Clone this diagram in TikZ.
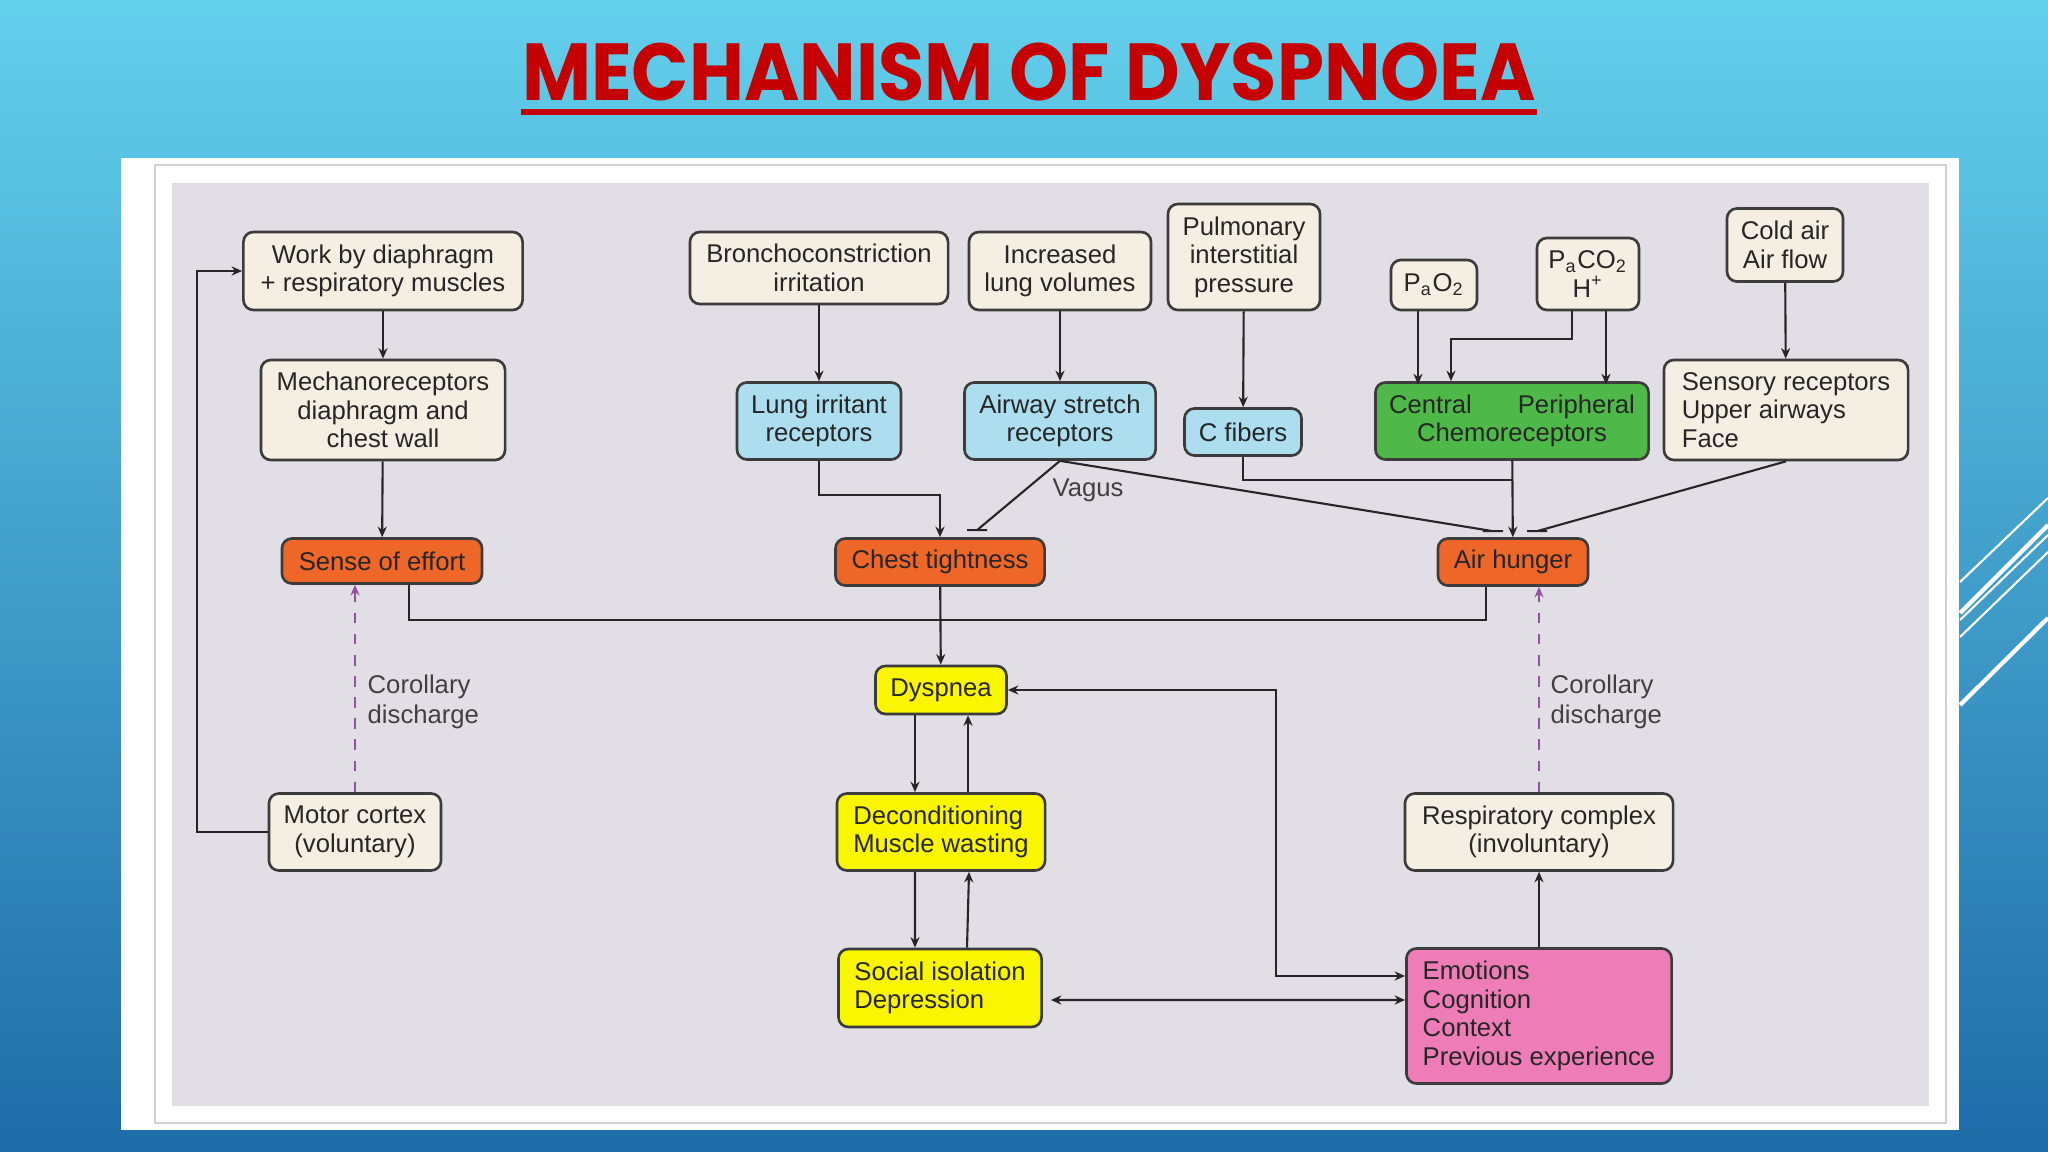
\documentclass[tikz,border=0pt]{standalone}
\usepackage{fontspec}
\setmainfont{Liberation Sans}
\newfontfamily\titlefont{Poppins}
\usetikzlibrary{arrows.meta}
\definecolor{bgtop}{RGB}{99,208,236}
\definecolor{bgbot}{RGB}{30,108,168}
\definecolor{panelgrey}{RGB}{226,222,229}
\definecolor{cream}{RGB}{245,238,226}
\definecolor{orangebox}{RGB}{238,102,40}
\definecolor{bluebox}{RGB}{172,222,240}
\definecolor{greenbox}{RGB}{78,184,72}
\definecolor{yellowbox}{RGB}{250,245,0}
\definecolor{pinkbox}{RGB}{238,124,182}
\definecolor{titlered}{RGB}{196,0,0}
\definecolor{corcol}{RGB}{150,80,160}
\definecolor{edgecol}{RGB}{60,60,60}
\begin{document}
\begin{tikzpicture}[x=0.01cm,y=-0.01cm,>={Stealth[length=3pt,width=2.6pt]},
  bx/.style={draw=edgecol,line width=0.75pt,rounded corners=0.1cm,align=center,inner sep=0pt,
    text=black!85,font=\fontsize{7.3}{8.1}\selectfont},
  link/.style={line width=0.6pt,black!85},
  corollary/.style={line width=0.6pt,corcol,dashed},
  lbl/.style={text=black!75,align=left,inner sep=0pt,font=\fontsize{7.3}{8.6}\selectfont}]
  \useasboundingbox (0,0) rectangle (2048,1152);
  \shade[top color=bgtop,bottom color=bgbot] (0,0) rectangle (2048,1152);
  \draw[white,line width=0.6pt] (1960,582) -- (2048,498);
  \draw[white,line width=1.2pt] (1960,613) -- (2048,525);
  \draw[white,line width=0.6pt] (1960,620) -- (2048,535);
  \draw[white,line width=0.6pt] (1960,637) -- (2048,552);
  \draw[white,line width=1.2pt] (1960,705) -- (2048,618);
  \fill[white] (121,158) rectangle (1959,1130);
  \draw[black!18,line width=0.5pt] (155,165) rectangle (1946,1123);
  \fill[panelgrey] (172,183) rectangle (1929,1106);

  \node[inner sep=0pt,text=titlered,font=\titlefont\bfseries\fontsize{23}{23}\selectfont] (title) at (1029,72)
    {\scalebox{0.93}[1]{MECHANISM OF DYSPNOEA}};
  \draw[titlered,line width=0.06cm] ([yshift=-0.11cm]title.base west) -- ([yshift=-0.11cm]title.base east);

  \node[bx,fill=cream,minimum width=2.79cm,minimum height=0.78cm] (work) at (383,271) {Work by diaphragm\\+ respiratory muscles};
  \node[bx,fill=cream,minimum width=2.44cm,minimum height=1.00cm] (mech) at (383,410) {Mechanoreceptors\\diaphragm and\\chest wall};
  \node[bx,fill=orangebox,minimum width=2.00cm,minimum height=0.45cm] (effort) at (382,561) {Sense of effort};
  \node[bx,fill=cream,minimum width=1.72cm,minimum height=0.77cm] (motor) at (355,832) {Motor cortex\\(voluntary)};
  \node[bx,fill=cream,minimum width=2.58cm,minimum height=0.72cm] (broncho) at (819,268) {Bronchoconstriction\\irritation};
  \node[bx,fill=bluebox,minimum width=1.64cm,minimum height=0.77cm] (irrit) at (819,421) {Lung irritant\\receptors};
  \node[bx,fill=cream,minimum width=1.82cm,minimum height=0.78cm] (incr) at (1060,271) {Increased\\lung volumes};
  \node[bx,fill=bluebox,minimum width=1.91cm,minimum height=0.77cm] (stretch) at (1060,421) {Airway stretch\\receptors};
  \node[bx,fill=cream,minimum width=1.52cm,minimum height=1.06cm] (pulm) at (1244,257) {Pulmonary\\interstitial\\pressure};
  \node[bx,fill=bluebox,minimum width=1.17cm,minimum height=0.47cm] (cfib) at (1243,432) {C fibers};
  \node[bx,fill=cream,minimum width=0.86cm,minimum height=0.50cm] (pao) at (1434,285) {P\textsubscript{a}O\textsubscript{2}};
  \node[bx,fill=cream,minimum width=1.02cm,minimum height=0.72cm] (paco) at (1588,274) {P\textsubscript{a}CO\textsubscript{2}\\H\textsuperscript{+}};
  \node[bx,fill=cream,minimum width=1.16cm,minimum height=0.73cm] (cold) at (1785,245) {Cold air\\Air flow};
  \node[bx,fill=greenbox,minimum width=2.73cm,minimum height=0.77cm] (chemo) at (1512,421) {Central\hspace{0.46cm}Peripheral\\Chemoreceptors};
  \node[bx,fill=cream,align=left,minimum width=2.44cm,minimum height=1.00cm] (sensory) at (1786,410) {Sensory receptors\\Upper airways\\Face};
  \node[bx,fill=orangebox,minimum width=2.09cm,minimum height=0.47cm] (chest) at (940,562) {Chest tightness};
  \node[bx,fill=orangebox,minimum width=1.50cm,minimum height=0.47cm] (hunger) at (1513,562) {Air hunger};
  \node[bx,fill=yellowbox,minimum width=1.31cm,minimum height=0.48cm] (dysp) at (941,690) {Dyspnea};
  \node[bx,fill=yellowbox,align=left,minimum width=2.08cm,minimum height=0.77cm] (decond) at (941,832) {Deconditioning\\Muscle wasting};
  \node[bx,fill=yellowbox,align=left,minimum width=2.03cm,minimum height=0.78cm] (social) at (940,988) {Social isolation\\Depression};
  \node[bx,fill=cream,minimum width=2.68cm,minimum height=0.77cm] (resp) at (1539,832) {Respiratory complex\\(involuntary)};
  \node[bx,fill=pinkbox,align=left,minimum width=2.65cm,minimum height=1.35cm] (emot) at (1539,1016) {Emotions\\Cognition\\Context\\Previous experience};

  \node[lbl,anchor=west] (corl) at (367,702) {Corollary\\discharge};
  \node[lbl,anchor=west] (corr) at (1550,702) {Corollary\\discharge};
  \node[lbl] (vagus) at (1088,490) {Vagus};

  \draw[link,->] (work) -- (mech);
  \draw[link,->] (mech) -- (effort);
  \draw[link,->] (motor.west) -- ++(-71,0) |- (work.west);
  \draw[corollary,->] (motor.north) -- (motor.north |- effort.south);
  \draw[link] ([xshift=0.27cm]effort.south) -- ++(0,35) -| ([xshift=-0.27cm]hunger.south);
  \draw[link,->] (chest) -- (dysp);
  \draw[link,->] (broncho) -- (irrit);
  \draw[link,->] (irrit.south) -- ++(0,34) -| (chest.north);
  \draw[link,->] (incr) -- (stretch);
  \draw[link,->] (pulm) -- (cfib);
  \coordinate (vagend) at ([xshift=0.37cm,yshift=0.07cm]chest.north);
  \coordinate (strend) at ([xshift=-0.2cm,yshift=0.06cm]hunger.north);
  \coordinate (sensend) at ([xshift=0.24cm,yshift=0.06cm]hunger.north);
  \draw[link] (stretch.south) -- (vagend) ([xshift=-0.1cm]vagend) -- ([xshift=0.1cm]vagend);
  \draw[link] (stretch.south) -- (strend) ([xshift=-0.1cm]strend) -- ([xshift=0.1cm]strend);
  \draw[link] (sensory.south) -- (sensend) ([xshift=-0.1cm]sensend) -- ([xshift=0.1cm]sensend);
  \draw[link] (cfib.south) |- ([yshift=-0.19cm]chemo.south);
  \draw[link,->] (chemo) -- (hunger);
  \draw[link,->] ([xshift=-0.16cm]pao.south) -- ++(0,73);
  \draw[link,->] ([xshift=-0.16cm]paco.south) -- ++(0,28) -| ([xshift=-0.61cm]chemo.north);
  \draw[link,->] ([xshift=0.18cm]paco.south) -- ++(0,73);
  \draw[link,->] (cold) -- (sensory);
  \draw[link,->] ([xshift=-0.26cm]dysp.south) -- ([xshift=-0.26cm]decond.north);
  \draw[link,->] ([xshift=0.27cm]decond.north) -- ([xshift=0.27cm]dysp.south);
  \draw[link,->] ([xshift=-0.26cm]decond.south) -- ([xshift=-0.25cm]social.north);
  \draw[link,->] ([xshift=0.27cm]social.north) -- ([xshift=0.28cm]decond.south);
  \draw[link,<->] (dysp.east) -- ++(268,0) |- ([yshift=0.4cm]emot.west);
  \draw[link,<->] ([yshift=-0.12cm,xshift=0.08cm]social.east) -- ([yshift=0.16cm]emot.west);
  \draw[link,->] (emot) -- (resp);
  \draw[corollary,->] (resp.north) -- (resp.north |- hunger.south);
\end{tikzpicture}
\end{document}
